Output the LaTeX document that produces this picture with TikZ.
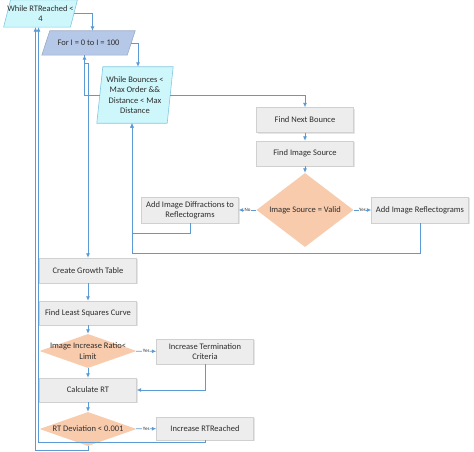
\documentclass[tikz,border=0pt]{standalone}
\usepackage{fontspec}
\setmainfont{Carlito}
\usetikzlibrary{shapes.geometric,shadows,arrows.meta,backgrounds}
\definecolor{flow}{RGB}{91,155,213}
\definecolor{boxfill}{RGB}{237,237,237}
\definecolor{boxline}{RGB}{208,208,208}
\definecolor{decfill}{RGB}{248,203,173}
\definecolor{loopfill}{RGB}{206,247,252}
\definecolor{loopline}{RGB}{130,200,225}
\definecolor{forfill}{RGB}{182,200,232}
\definecolor{txt}{RGB}{45,45,45}

\begin{document}
\begin{tikzpicture}[x=1pt, y=-1pt,
  every node/.style={font=\fontsize{8.5}{10.2}\selectfont, text=txt},
  box/.style={rectangle, draw=boxline, fill=boxfill, minimum width=97pt, minimum height=25pt,
    inner sep=1pt, align=center, drop shadow={shadow xshift=1pt, shadow yshift=-1pt, opacity=0.2}},
  decision/.style={diamond, fill=decfill, inner sep=0pt, minimum width=97pt},
  loopbody/.style={rectangle, inner sep=0pt, align=center},
  loopshape/.style={draw=loopline, fill=loopfill, line width=0.6pt},
  flowline/.style={draw=flow, line width=0.8pt, -{Latex[length=4.5pt,width=4pt]}},
  yesno/.style={font=\fontsize{5}{5}\selectfont, fill=white, inner sep=0.5pt}
]
  \useasboundingbox (0,0) rectangle (474,452);

  \node[loopbody, minimum width=66pt, minimum height=27pt] at (40.5,13.5) (A) {While RTReached <\\4};
  \node[loopbody, minimum width=85pt, minimum height=24pt] at (88.5,43) (B) {For I = 0 to I = 100};
  \node[loopbody, minimum width=70pt, minimum height=56pt] at (135,95) (C) {While Bounces <\\Max Order \&\&\\Distance < Max\\Distance};
  \begin{scope}[on background layer]
    \draw[loopshape] ([xshift=-3.5pt]A.south west) -- ([xshift=3.5pt]A.north west) -- ([xshift=3.5pt]A.north east) -- ([xshift=-3.5pt]A.south east) -- cycle;
    \draw[loopshape, fill=forfill, draw=forfill!85!black] ([xshift=-4pt]B.south west) -- ([xshift=4pt]B.north west) -- ([xshift=4pt]B.north east) -- ([xshift=-4pt]B.south east) -- cycle;
    \draw[loopshape] ([xshift=-3pt]C.south west) -- ([xshift=3pt]C.north west) -- ([xshift=3pt]C.north east) -- ([xshift=-3pt]C.south east) -- cycle;
  \end{scope}

  \node[box] at (305,120) (D) {Find Next Bounce};
  \node[box] at (305,153.5) (E) {Find Image Source};
  \node[decision, minimum height=74pt, label={center:{Image Source = Valid}}] at (305,210) (F) {};
  \node[box, minimum height=26pt] at (190,210) (G) {Add Image Diffractions to\\Reflectograms};
  \node[box, minimum height=26pt] at (420,210) (H) {Add Image Reflectograms};

  \node[box] at (88,270.5) (I) {Create Growth Table};
  \node[box, minimum height=24pt] at (88,313) (J) {Find Least Squares Curve};
  \node[decision, minimum height=34pt, label={[align=center]center:{Image Increase Ratio<\\Limit}}] at (88,351) (K) {};
  \node[box] at (205,351.5) (L) {Increase Termination\\Criteria};
  \node[box, minimum height=24pt] at (88,390) (M) {Calculate RT};
  \node[decision, minimum height=34pt, label={center:{RT Deviation < 0.001}}] at (88,429) (N) {};
  \node[box, minimum height=23pt] at (205,428.5) (O) {Increase RTReached};

  \draw[flowline] (A.east) -| ([xshift=4pt]B.north);
  \draw[flowline] (B.east) -| ([xshift=3pt]C.north);
  \draw[flowline] (C.east) -| (D.north);
  \draw[flowline] (D) -- (E);
  \draw[flowline] (E) -- (F);
  \draw[flowline] (F) -- node[yesno] {No} (G);
  \draw[flowline] (F) -- node[yesno] {Yes} (H);
  \draw[flowline] (G.south) -- ++(0,10) -| ([xshift=-3pt]C.south);
  \draw[flowline] (H.south) -- ++(0,30) -| ([xshift=-3pt]C.south);
  \draw[flowline] (C.west) -| ([xshift=-4pt]B.south);
  \draw[flowline] ([xshift=-4pt]B.south) -- ++(0,8) -| (I.north);

  \draw[flowline] (I) -- (J);
  \draw[flowline] (J) -- (K);
  \draw[flowline] (K) -- (M);
  \draw[flowline] (K) -- node[yesno] {Yes} (L);
  \draw[flowline] (L.south) |- (M.east);
  \draw[flowline] (M) -- (N);
  \draw[flowline] (N) -- node[yesno] {Yes} (O);
  \draw[flowline] (O.south) -- ++(0,2) -| ([xshift=-2pt]A.south);
  \draw[flowline] (N.south) -- ++(0,4) -| ([xshift=-5pt]A.south);
\end{tikzpicture}
\end{document}
